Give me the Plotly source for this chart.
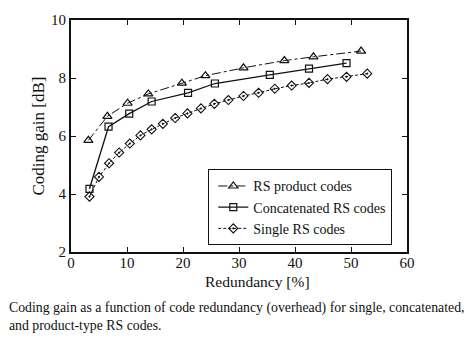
import plotly.graph_objects as go

# Data
prod_x = [3.1, 6.5, 10.1, 13.8, 19.8, 24.0, 30.8, 38.1, 43.3, 51.8]
prod_y = [5.85, 6.68, 7.13, 7.45, 7.82, 8.08, 8.35, 8.60, 8.73, 8.93]

conc_x = [3.3, 6.7, 10.4, 14.4, 20.9, 25.7, 35.5, 42.5, 49.2]
conc_y = [4.18, 6.32, 6.77, 7.19, 7.49, 7.81, 8.11, 8.32, 8.51]

single_x = [3.3, 5.0, 6.8, 8.6, 10.5, 12.4, 14.4, 16.4, 18.6, 20.8, 23.2, 25.6,
            28.1, 30.8, 33.5, 36.4, 39.4, 42.5, 45.8, 49.2, 52.9]
single_y = [3.91, 4.59, 5.06, 5.43, 5.74, 6.02, 6.23, 6.42, 6.62, 6.78, 6.95, 7.11,
            7.24, 7.38, 7.49, 7.63, 7.74, 7.83, 7.96, 8.04, 8.15]

names = ["RS product codes", "Concatenated RS codes", "Single RS codes"]
x_ticks = [0, 10, 20, 30, 40, 50, 60]
y_ticks = [2, 4, 6, 8, 10]
x_title = "Redundancy [%]"
y_title = "Coding gain [dB]"
caption = ("Coding gain as a function of code redundancy (overhead) for single, concatenated,"
           "<br>and product-type RS codes.")

FONT = "Liberation Serif"
ink = "#111111"

fig = go.Figure()
fig.add_trace(go.Scatter(x=prod_x, y=prod_y, name=names[0], mode="lines+markers",
                         line=dict(color=ink, width=1, dash="dashdot"),
                         marker=dict(symbol="triangle-up-open", size=8, color=ink,
                                     line=dict(width=1.2))))
fig.add_trace(go.Scatter(x=conc_x, y=conc_y, name=names[1], mode="lines+markers",
                         line=dict(color=ink, width=1.3, dash="solid"),
                         marker=dict(symbol="square-open", size=7, color=ink,
                                     line=dict(width=1.2))))
fig.add_trace(go.Scatter(x=single_x, y=single_y, name=names[2], mode="lines+markers",
                         line=dict(color=ink, width=1, dash="3px,2px"),
                         marker=dict(symbol="diamond-open-dot", size=7, color=ink,
                                     line=dict(width=1.1))))

axis_common = dict(showgrid=False, zeroline=False, showline=True, linecolor=ink,
                   linewidth=1.8, mirror="ticks", ticks="inside", ticklen=5,
                   tickcolor=ink, tickfont=dict(family=FONT, size=15, color=ink))

fig.update_xaxes(range=[0, 60], tickvals=x_ticks, ticklabelstandoff=-4, **axis_common)
fig.update_yaxes(range=[2, 10], tickvals=y_ticks, title=dict(text=y_title,
                 font=dict(family=FONT, size=17, color=ink), standoff=2), **axis_common)

fig.update_layout(
    width=474, height=341,
    margin=dict(l=71, r=67, t=16, b=89),
    paper_bgcolor="white", plot_bgcolor="white",
    font=dict(family=FONT, size=14, color=ink),
    legend=dict(x=0.408, y=0.357, xanchor="left", yanchor="top",
                bgcolor="white", bordercolor=ink, borderwidth=1.2,
                font=dict(family=FONT, size=14, color=ink),
                tracegroupgap=0, itemwidth=30, indentation=4),
    annotations=[
        dict(text=x_title, xref="paper", yref="paper", x=0.554, y=-0.128,
             xanchor="center", yanchor="middle", showarrow=False,
             font=dict(family=FONT, size=15.5, color=ink)),
        dict(text=caption, xref="paper", yref="paper",
             x=-0.19, y=-0.2, xanchor="left", yanchor="top",
             align="left", showarrow=False,
             font=dict(family=FONT, size=13.8, color=ink))],
)

fig.write_html("out.html")
